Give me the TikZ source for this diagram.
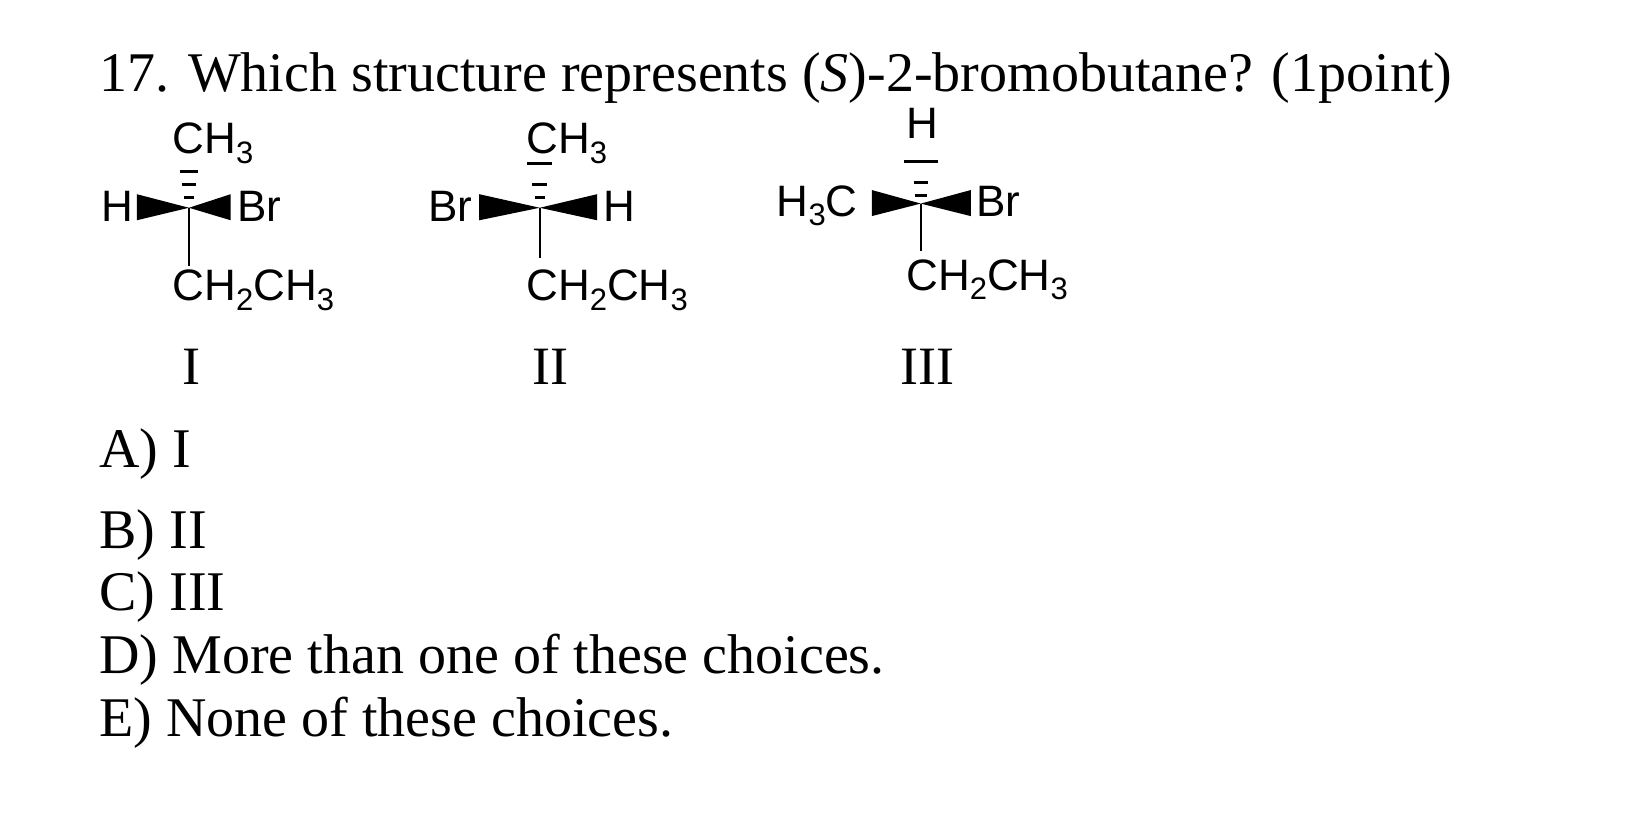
\documentclass[tikz,border=0pt]{standalone}
\usepackage{fontspec}
\usetikzlibrary{calc}
\setmainfont{Liberation Serif}
\newfontfamily\arialf{Liberation Sans}
\newcommand{\sbs}[1]{\raisebox{-0.22em}{\fontsize{31}{31}\selectfont #1}}
\begin{document}
\begin{tikzpicture}[x=1.044pt,y=-1.044pt,
  ser/.style={font=\fontsize{56}{60}\selectfont,inner sep=0pt,anchor=base west},
  chem/.style={font=\arialf\fontsize{44}{48}\selectfont,inner sep=0pt,anchor=base west},
  rom/.style={font=\fontsize{54}{58}\selectfont,inner sep=0pt,anchor=base},
  bond/.style={line width=1.6pt},
  hb/.style={line width=3pt}]
\useasboundingbox (0,0) rectangle (1568,778);
\fill[white] (0,0) rectangle (1568,778);
\node[ser] (title) at (95,88) {17. Which structure represents (\textit{S})-2-bromobutane? (1point)};
% Structure I
\coordinate (c1) at (181,199);
\node[chem] (t1) at (165,147) {CH\sbs{3}};
\node[chem] (l1) at (97,212) {H};
\node[chem] (r1) at (227,212) {Br};
\node[chem] (b1) at (165,288) {CH\sbs{2}CH\sbs{3}};
\fill (c1) -- (131,186) -- (131,211) -- cycle;
\fill (c1) -- (221,186) -- (221,211) -- cycle;
\draw[bond] (c1) -- ++(0,56) coordinate (e1);
\foreach \d/\w in {10/5,22/7,35/9}{\draw[hb] ($(c1)+(-\w,-\d)$) -- ($(c1)+(\w,-\d)$);}
\node[rom] (n1) at (183,368) {I};
% Structure II
\coordinate (c2) at (517,199);
\node[chem] (t2) at (504,147) {CH\sbs{3}};
\node[chem] (l2) at (410,212) {Br};
\node[chem] (r2) at (578,212) {H};
\node[chem] (b2) at (504,288) {CH\sbs{2}CH\sbs{3}};
\fill (c2) -- (459,186) -- (459,211) -- cycle;
\fill (c2) -- (572,186) -- (572,211) -- cycle;
\draw[bond] (c2) -- ++(0,48);
\foreach \d/\w in {10/5,22/7,42/12}{\draw[hb] ($(c2)+(-\w,-\d)$) -- ($(c2)+(\w,-\d)$);}
\node[rom] (n2) at (527,368) {II};
% Structure III
\coordinate (c3) at (882,195);
\node[chem] (t3) at (868,133) {H};
\node[chem] (l3) at (744,207) {H\sbs{3}C};
\node[chem] (r3) at (935,207) {Br};
\node[chem] (b3) at (868,278) {CH\sbs{2}CH\sbs{3}};
\fill (c3) -- (835,182) -- (835,207) -- cycle;
\fill (c3) -- (930,182) -- (930,207) -- cycle;
\draw[bond] (c3) -- ++(0,45);
\foreach \d/\w in {8/6,20/7,40/16}{\draw[hb] ($(c3)+(-\w,-\d)$) -- ($(c3)+(\w,-\d)$);}
\node[rom] (n3) at (888,368) {III};
% answers
\node[ser] (a) at (95,448) {A) I};
\node[ser] (b) at (95,525) {B) II};
\node[ser] (c) at (95,585) {C) III};
\node[ser] (d) at (95,645) {D) More than one of these choices.};
\node[ser] (e) at (95,705) {E) None of these choices.};
\end{tikzpicture}
\end{document}
